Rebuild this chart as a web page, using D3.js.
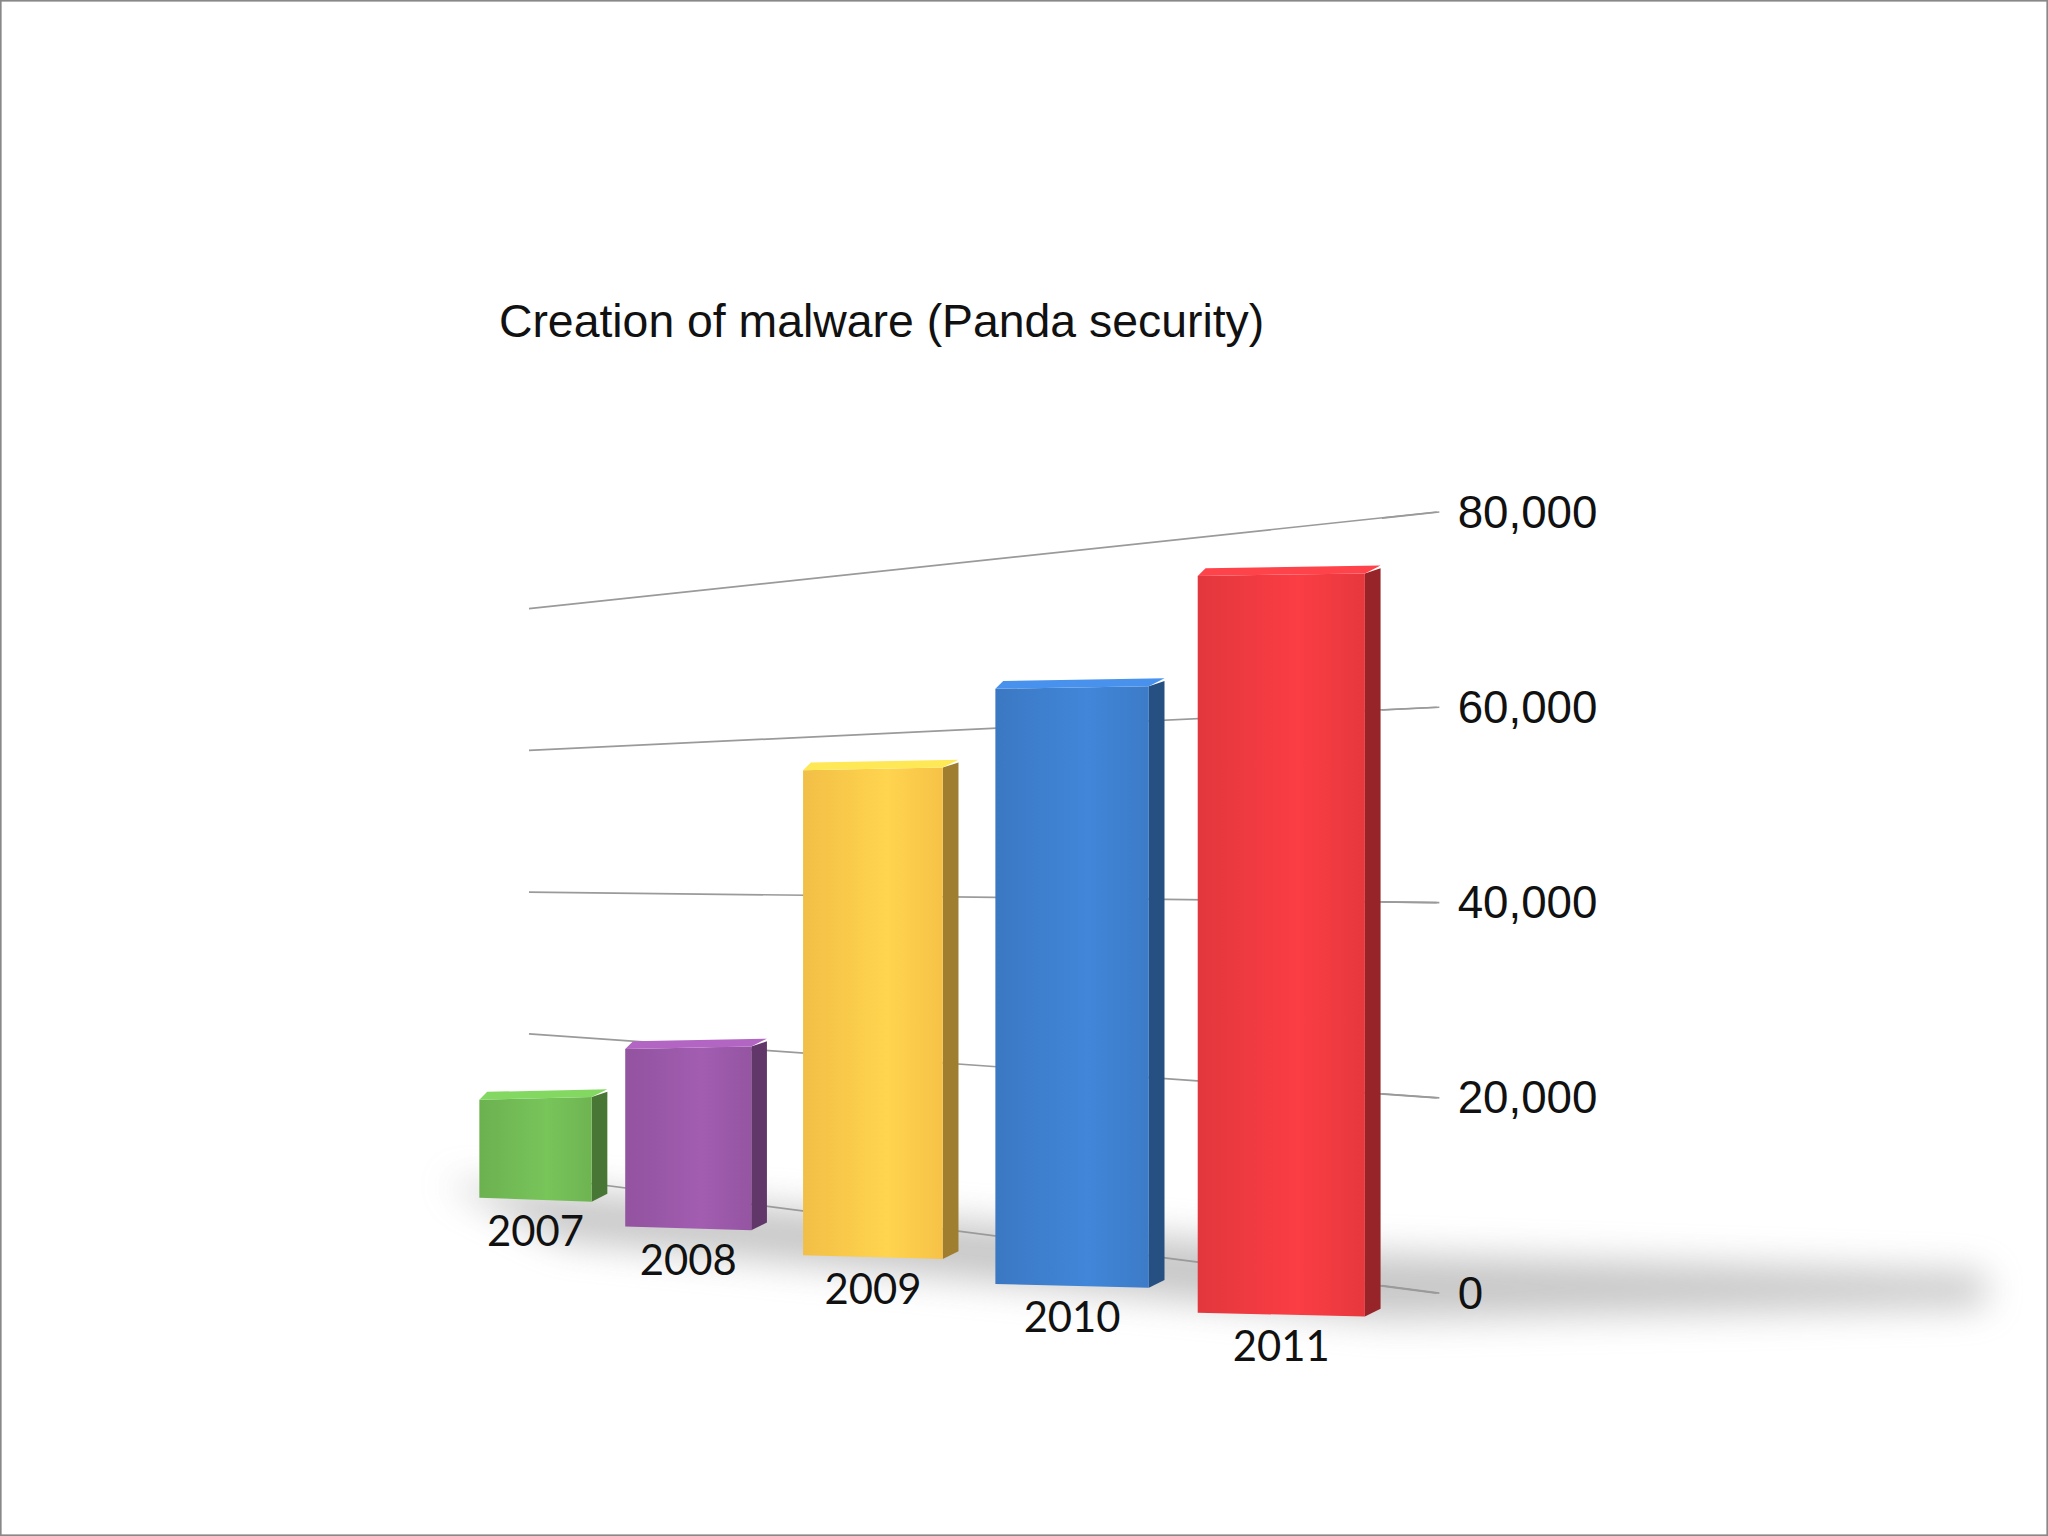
<!DOCTYPE html>
<html><head><meta charset="utf-8">
<script src="https://cdn.jsdelivr.net/npm/d3@7"></script>
<style>body{margin:0;background:#fff}svg{display:block}</style>
</head><body>
<script>
const years = ["2007","2008","2009","2010","2011"];
const values = [15300, 23800, 57000, 64000, 73000];
const colors = ["#72bb55","#9a58a8","#ffc94a","#3e7fce","#ee3a40"];
const ticks = [0, 20000, 40000, 60000, 80000];
const title = "Creation of malware (Panda security)";

const svg = d3.select("body").append("svg")
  .attr("width", 2048).attr("height", 1536)
  .attr("viewBox", "0 0 1568 1176");
const defs = svg.append("defs");
svg.append("rect").attr("x",0.5).attr("y",0.5).attr("width",1567).attr("height",1175)
  .attr("fill","#fff").attr("stroke","#888").attr("stroke-width",1.5);

const blur = defs.append("filter").attr("id","blur").attr("x","-20%").attr("y","-50%").attr("width","140%").attr("height","200%");
blur.append("feGaussianBlur").attr("stdDeviation",14);

const yRight = d3.scaleLinear().domain([0,80000]).range([990,392]);
const yLeft = d3.scaleLinear().domain([0,80000]).range([900,466]);
const depth = d3.scalePow().exponent(1.15).domain([0,4]).range([0,550]);
const widthS = d3.scaleLinear().domain([0,4]).range([98,140]);
const baseY = d3.scaleLinear().domain([0,4]).range([920,1008]);
const pxPerUnit = i => (573/73000) * widthS(i)/140;

svg.append("path")
  .attr("d","M340,905 L1060,960 L1520,975 L1520,1000 L1060,1010 L430,950 Z")
  .attr("fill","#9a9a9a").attr("opacity",0.55).attr("filter","url(#blur)");

svg.append("g").selectAll("line").data(ticks).join("line")
  .attr("x1",405).attr("y1",d=>yLeft(d)).attr("x2",1100).attr("y2",d=>yRight(d))
  .attr("stroke","#9a9a9a").attr("stroke-width",1.3);

years.forEach((y,i)=>{
  const c = d3.color(colors[i]);
  const g = defs.append("linearGradient").attr("id","g"+i).attr("x1",0).attr("x2",1).attr("y1",0).attr("y2",0);
  g.append("stop").attr("offset","0%").attr("stop-color",c.darker(0.15));
  g.append("stop").attr("offset","60%").attr("stop-color",c.brighter(0.15));
  g.append("stop").attr("offset","100%").attr("stop-color",c.darker(0.1));
  const x0 = 367 + depth(i), w = widthS(i) - 12, b = baseY(i);
  const h = values[i]*pxPerUnit(i), t = b - h;
  const sd = 12, tilt = 4;
  const bar = svg.append("g");
  bar.append("path").attr("d",`M${x0+w},${t+tilt} L${x0+w+sd},${t} L${x0+w+sd},${b-6} L${x0+w},${b}Z`)
    .attr("fill",c.darker(1.3));
  bar.append("path").attr("d",`M${x0},${t+6} L${x0+w},${t+tilt} L${x0+w},${b} L${x0},${b-3}Z`)
    .attr("fill",`url(#g${i})`);
  bar.append("path").attr("d",`M${x0},${t+6} L${x0+6},${t} L${x0+w+sd},${t-2} L${x0+w},${t+tilt}Z`)
    .attr("fill",c.brighter(0.4));
  svg.append("text").attr("x",x0+w/2).attr("y",b+34).attr("text-anchor","middle")
    .attr("font-family","Lato, sans-serif").attr("font-size",32).attr("fill","#111").text(y);
});

const ax = svg.append("g");
ax.selectAll("line").data(ticks).join("line")
  .attr("x1",1058).attr("x2",1102)
  .attr("y1",d=>yRight(d) + (yLeft(d)-yRight(d))*(44/695)).attr("y2",d=>yRight(d))
  .attr("stroke","#9a9a9a").attr("stroke-width",1.3);
ax.selectAll("text").data(ticks).join("text")
  .attr("x",1116).attr("y",d=>yRight(d)+12)
  .attr("font-family","'Liberation Sans', Arial, sans-serif").attr("font-size",35).attr("fill","#111")
  .text(d=>d3.format(",")(d));

svg.append("text").attr("x",382).attr("y",258)
  .attr("font-family","'Liberation Sans', Arial, sans-serif").attr("font-size",35.5).attr("fill","#111").text(title);
</script>
</body></html>
